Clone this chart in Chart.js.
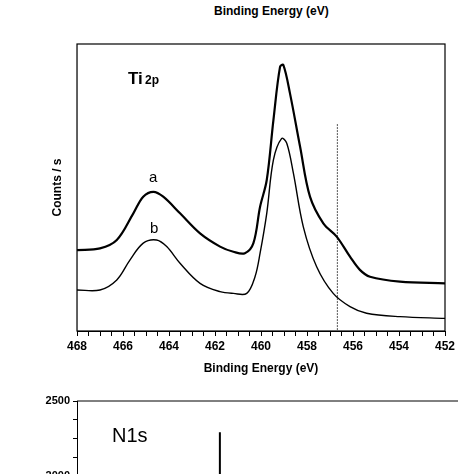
<!DOCTYPE html>
<html>
<head>
<meta charset="utf-8">
<script src="https://cdn.jsdelivr.net/npm/chart.js@4"></script>
<style>
  body { margin: 0; width: 474px; height: 474px; overflow: hidden; background: #fff; position: relative; font-family: 'Liberation Sans Narrow', 'Liberation Sans', sans-serif; }
  #top { position: absolute; left: 0; top: 0; width: 474px; height: 380px; }
  #bottom { position: absolute; left: 0; top: 390px; width: 474px; height: 170px; }
  .lbl { position: absolute; font-weight: bold; font-size: 12px; }
</style>
</head>
<body>
<div class="lbl" style="left:214px;top:4px;">Binding Energy (eV)</div>
<div id="top"><canvas id="tiChart" width="474" height="380"></canvas></div>
<div id="bottom"><canvas id="nChart" width="474" height="170"></canvas></div>
<script>
// Ti 2p spectra (binding energy in eV, counts in arbitrary units)
const energyA = [468.0, 467.0, 466.27, 465.55, 465.12, 464.68, 464.25, 463.52, 462.65, 461.78, 461.2, 460.7, 460.33, 460.04, 459.75, 459.46, 459.17, 459.03, 458.74, 458.3, 457.87, 457.29, 456.71, 456.13, 455.7, 455.26, 453.96, 452.0];
const countsA = [28.2, 28.8, 31.7, 41.0, 46.8, 48.5, 46.8, 41.0, 34.0, 29.4, 27.6, 27.1, 30.6, 43.3, 52.6, 73.5, 92.1, 92.7, 82.8, 64.2, 46.8, 37.5, 32.9, 25.9, 21.3, 18.9, 17.2, 16.6];
const energyB = [468.0, 467.0, 466.27, 465.7, 465.12, 464.54, 464.1, 463.52, 462.65, 461.78, 461.2, 460.62, 460.26, 460.04, 459.75, 459.46, 459.1, 458.88, 458.59, 458.16, 457.58, 456.86, 456.13, 455.41, 453.96, 452.0];
const countsB = [14.3, 14.3, 17.8, 24.7, 30.6, 31.7, 29.4, 23.6, 16.6, 13.7, 13.1, 13.1, 18.9, 27.1, 41.0, 59.6, 67.1, 65.4, 54.9, 36.3, 22.4, 13.1, 8.5, 6.2, 5.0, 4.4];
const markerEnergy = 456.68;
const markerCounts = [72.1, 0];
const xTicks = [468, 466, 464, 462, 460, 458, 456, 454, 452];

// N 1s panel
const nTicks = [2500, 2000];
const nPeakPos = [0.375, 0.375];
const nPeakCounts = [2290, 1500];

const pts = (xs, ys) => xs.map((x, i) => ({ x: x, y: ys[i] }));
const font = { family: "'Liberation Sans Narrow', 'Liberation Sans', sans-serif", weight: 'bold', size: 12 };

const annotate = {
  id: 'annotate',
  afterDraw(chart) {
    const { ctx, chartArea: a } = chart;
    ctx.save();
    ctx.strokeStyle = '#000';
    ctx.lineWidth = 1.2;
    ctx.strokeRect(a.left, a.top, a.right - a.left, a.bottom - a.top);
    ctx.fillStyle = '#000';
    ctx.font = "bold 17px 'Liberation Sans', sans-serif";
    ctx.fillText('Ti', 128, 84);
    ctx.font = "bold 12px 'Liberation Sans', sans-serif";
    ctx.fillText('2p', 145, 84);
    ctx.font = "15px 'Liberation Sans', sans-serif";
    ctx.fillText('a', 149, 182);
    ctx.fillText('b', 150, 233);
    ctx.restore();
  }
};

new Chart(document.getElementById('tiChart'), {
  type: 'line',
  data: {
    datasets: [
      { data: pts(energyA, countsA), borderColor: '#000', borderWidth: 2.2, pointRadius: 0, tension: 0.35 },
      { data: pts(energyB, countsB), borderColor: '#000', borderWidth: 1.4, pointRadius: 0, tension: 0.35 },
      { data: pts([markerEnergy, markerEnergy], markerCounts), borderColor: '#555', borderWidth: 1, borderDash: [2, 1], pointRadius: 0 }
    ]
  },
  options: {
    responsive: false, animation: false,
    layout: { padding: { top: 44, right: 29, left: 46 } },
    plugins: { legend: { display: false }, tooltip: { enabled: false } },
    scales: {
      x: {
        type: 'linear', reverse: true, min: 452, max: 468,
        afterBuildTicks: s => { s.ticks = []; for (let v = 452; v <= 468; v += 0.5) s.ticks.push({ value: v }); },
        afterFit: s => { s.height = 49; },
        ticks: { autoSkip: false, maxRotation: 0, color: '#000', font: font, callback: v => xTicks.includes(v) ? v : '' },
        grid: { drawOnChartArea: false, tickLength: 5, color: '#000' },
        border: { color: '#000' },
        title: { display: true, text: 'Binding Energy (eV)', color: '#000', font: font, padding: { top: 4 } }
      },
      y: {
        min: 0, max: 100,
        afterFit: s => { s.width = 31; },
        ticks: { display: false },
        grid: { display: false },
        title: { display: true, text: 'Counts / s', color: '#000', font: font }
      }
    }
  },
  plugins: [annotate]
});

const nLabel = {
  id: 'nLabel',
  afterDraw(chart) {
    const { ctx, chartArea: a } = chart;
    ctx.save();
    ctx.strokeStyle = '#000';
    ctx.lineWidth = 1;
    ctx.beginPath();
    ctx.moveTo(a.left, a.top); ctx.lineTo(a.right, a.top);
    ctx.stroke();
    ctx.fillStyle = '#000';
    ctx.font = "20px 'Liberation Sans', sans-serif";
    ctx.fillText('N1s', 112, 52);
    ctx.restore();
  }
};

new Chart(document.getElementById('nChart'), {
  type: 'line',
  data: { datasets: [{ data: pts(nPeakPos, nPeakCounts), borderColor: '#000', borderWidth: 2, pointRadius: 0 }] },
  options: {
    responsive: false, animation: false,
    layout: { padding: { top: 11, right: 16 } },
    plugins: { legend: { display: false }, tooltip: { enabled: false } },
    scales: {
      x: { type: 'linear', min: 0, max: 1, display: false },
      y: {
        min: 1500, max: 2500,
        afterBuildTicks: s => { s.ticks = []; for (let v = 1500; v <= 2500; v += 125) s.ticks.push({ value: v }); },
        afterFit: s => { s.width = 77; },
        ticks: { autoSkip: false, color: '#000', font: { ...font, size: 11 }, callback: v => nTicks.includes(v) ? v : '' },
        grid: { drawOnChartArea: false, tickLength: 4, color: '#000' },
        border: { color: '#000' }
      }
    }
  },
  plugins: [nLabel]
});
</script>
</body>
</html>
